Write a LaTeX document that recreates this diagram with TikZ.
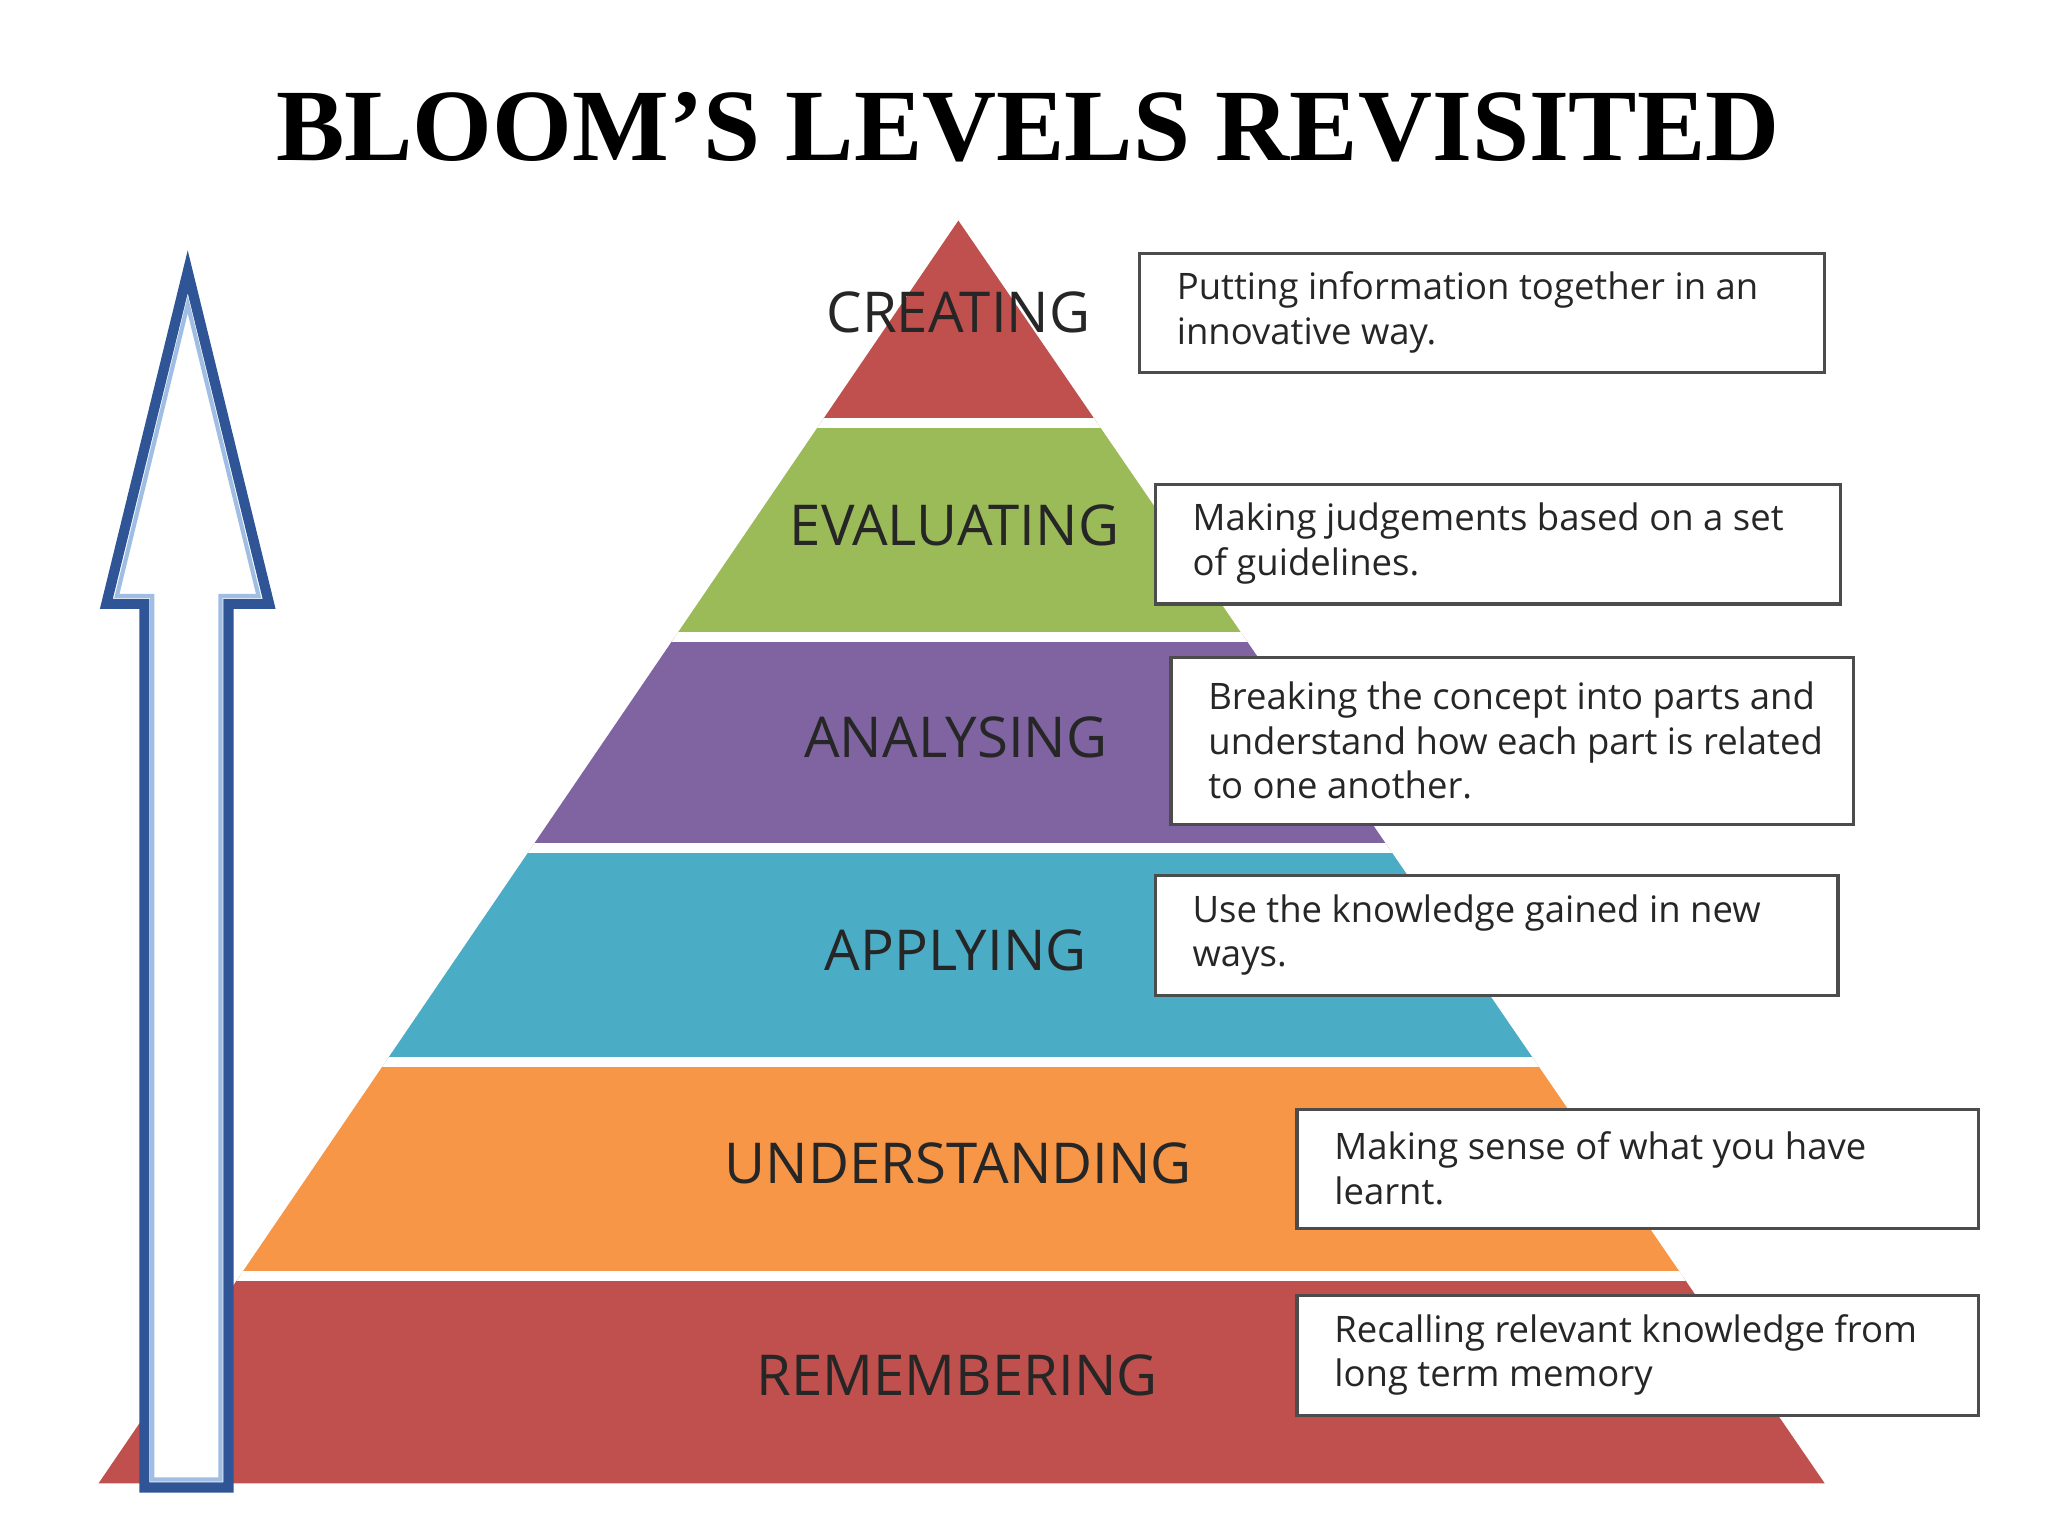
\documentclass[tikz,border=0pt]{standalone}
\usepackage{fontspec}
\setmainfont{Liberation Serif}
\newfontfamily\lab{Open Sans}
\begin{document}
\begin{tikzpicture}[x=0.01cm,y=-0.01cm,
  lvl/.style={font=\lab\fontsize{12.2}{14}\selectfont, text=black!85},
  desc/.style={anchor=west, align=left, font=\lab\fontsize{7.9}{9.6}\selectfont, text=black!85},
  dbox/.style={draw=black!70, line width=0.7pt, fill=white}]
\useasboundingbox (0,0) rectangle (1560,1170);
\fill[white] (0,0) rectangle (1560,1170);
\node[font=\bfseries\fontsize{22.2}{26}\selectfont] (title) at (783,97) {BLOOM’S LEVELS REVISITED};
\begin{scope}
\clip (730,168) -- (75,1130) -- (1390,1130) -- cycle;
\fill[fill={rgb,255:red,192;green,80;blue,77}] (0,160) rectangle (1560,322);
\fill[fill={rgb,255:red,155;green,187;blue,89}] (0,322) rectangle (1560,485);
\fill[fill={rgb,255:red,128;green,100;blue,162}] (0,485) rectangle (1560,646);
\fill[fill={rgb,255:red,75;green,172;blue,198}] (0,646) rectangle (1560,809);
\fill[fill={rgb,255:red,247;green,150;blue,70}] (0,809) rectangle (1560,972);
\fill[fill={rgb,255:red,192;green,80;blue,77}] (0,972) rectangle (1560,1140);
\foreach \y in {322,485,646,809,972} \draw[white, line width=2.2pt] (0,\y) -- (1560,\y);
\end{scope}
\node[lvl] (l1) at (730,238) {CREATING};
\node[lvl] (l2) at (727,400) {EVALUATING};
\node[lvl] (l3) at (728,562) {ANALYSING};
\node[lvl] (l4) at (728,724) {APPLYING};
\node[lvl] (l5) at (730,886) {UNDERSTANDING};
\node[lvl] (l6) at (729,1048) {REMEMBERING};
\draw[dbox] (868,193) rectangle (1390,284);
\node[desc] (d1) at (884,238) {Putting information together in an\\innovative way.};
\draw[dbox] (880,369) rectangle (1402,460);
\node[desc] (d2) at (896,414) {Making judgements based on a set\\of guidelines.};
\draw[dbox] (892,501) rectangle (1412,628);
\node[desc] (d3) at (908,564) {Breaking the concept into parts and\\understand how each part is related\\to one another.};
\draw[dbox] (880,667) rectangle (1400,758);
\node[desc] (d4) at (896,712) {Use the knowledge gained in new\\ways.};
\draw[dbox] (988,845) rectangle (1507,936);
\node[desc] (d5) at (1004,890) {Making sense of what you have\\learnt.};
\draw[dbox] (988,987) rectangle (1507,1078);
\node[desc] (d6) at (1004,1032) {Recalling relevant knowledge from\\long term memory};
\path[fill=white, draw={rgb,255:red,47;green,85;blue,151}, line width=2.2pt, line join=miter]
  (110,1133) -- (110,460) -- (81,460) -- (143,207) -- (205,460) -- (174,460) -- (174,1133) -- cycle;
\path[draw={rgb,255:red,160;green,190;blue,228}, line width=0.9pt]
  (116,1127) -- (116,454) -- (89,454) -- (143,232) -- (197,454) -- (168,454) -- (168,1127) -- cycle;
\end{tikzpicture}
\end{document}
